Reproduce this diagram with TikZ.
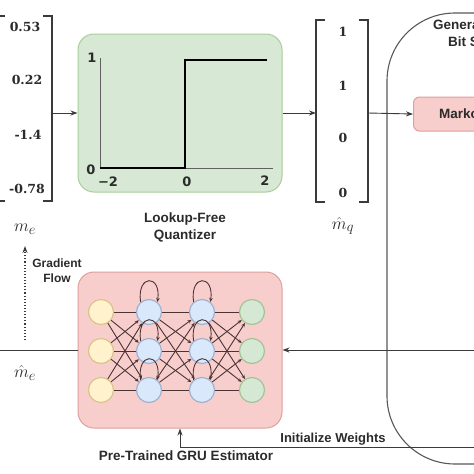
\documentclass[tikz,border=0pt]{standalone}
\usepackage{fontspec}
\usetikzlibrary{arrows.meta}
\newfontfamily\lsans{Liberation Sans}
\newfontfamily\dsans{DejaVu Sans}
\newfontfamily\numfont{DejaVu Serif}
\definecolor{txt}{HTML}{2B2B2B}
\definecolor{lnc}{HTML}{3A3A3A}
\definecolor{qfill}{HTML}{D7E9D5}
\definecolor{qdraw}{HTML}{A9CC9A}
\definecolor{pfill}{HTML}{F8CECC}
\definecolor{pdraw}{HTML}{DDA09E}
\definecolor{yfill}{HTML}{FFF2CC}
\definecolor{ydraw}{HTML}{D9C48A}
\definecolor{bfill}{HTML}{DAE8FC}
\definecolor{bdraw}{HTML}{9FB3D1}
\definecolor{gfill}{HTML}{D5E8D4}
\definecolor{gdraw}{HTML}{A3C496}
\definecolor{edge}{HTML}{4A3434}
\tikzset{
  matnum/.style={font=\numfont\bfseries\fontsize{12.5}{15}\selectfont, text=txt, inner sep=0},
  caption/.style={font=\lsans\bfseries\fontsize{13.5}{17}\selectfont, text=txt, align=center, inner sep=0},
  axlab/.style={font=\dsans\bfseries\fontsize{13}{15}\selectfont, text=txt, inner sep=0},
  mlab/.style={font=\fontsize{19}{21}\selectfont, text=txt, inner sep=0},
  brk/.style={draw=lnc, line width=1.5},
  conn/.style={draw=lnc, line width=0.9, -{Stealth[length=7, width=5]}},
  quantbox/.style={draw=qdraw, fill=qfill, rounded corners=16, line width=1},
  pinkbox/.style={draw=pdraw, fill=pfill, rounded corners=16, line width=1},
  markbox/.style={draw=pdraw, fill=pfill, rounded corners=6, line width=1},
  neur/.style={circle, minimum size=25, inner sep=0, line width=1.2},
  yn/.style={neur, draw=ydraw, fill=yfill},
  bn/.style={neur, draw=bdraw, fill=bfill},
  gn/.style={neur, draw=gdraw, fill=gfill},
  nedge/.style={draw=edge, line width=0.9},
  nedgea/.style={nedge, -{Stealth[length=4, width=3.5]}},
}
\begin{document}
\begin{tikzpicture}[x=1pt, y=-1pt]
\useasboundingbox (0,0) rectangle (474,474);
\clip (0,0) rectangle (474,474);
\fill[white] (0,0) rectangle (474,474);

% left matrix m_e
\draw[brk] (5,16) -- (-4,16) -- (-4,201) -- (5,201);
\draw[brk] (43,16) -- (52,16) -- (52,201) -- (43,201);
\node[matnum] (e1) at (25,27) {0.53};
\node[matnum] (e2) at (27,80) {0.22};
\node[matnum] (e3) at (28,135) {-1.4};
\node[matnum] (e4) at (27,189) {-0.78};
\coordinate (meR) at (52,113);
\node[mlab] (melab) at (25,229) {$m_e$};

% quantizer
\node[quantbox, minimum width=204, minimum height=158] (quant) at (180,113) {};
\draw[draw=lnc!80, line width=1] (100,58) -- (100,168) -- (273,168);
\draw[draw=black, line width=2.4] (100,168) -- (185,168) -- (185,60) -- (267,60);
\node[axlab] (ay1) at (92,58) {1};
\node[axlab] (ay0) at (91,170) {0};
\node[axlab] (axm2) at (108,182) {\char"2212 2};
\node[axlab] (ax0) at (187,182) {0};
\node[axlab] (ax2) at (265,181) {2};
\node[caption] (qlab) at (185,227) {Lookup-Free\\Quantizer};
\draw[conn] (meR) -- (quant.west);

% m_q matrix
\draw[brk] (325,20) -- (316,20) -- (316,202) -- (325,202);
\draw[brk] (359,20) -- (368,20) -- (368,202) -- (359,202);
\node[matnum] (q1) at (343,32) {1};
\node[matnum] (q2) at (343,86) {1};
\node[matnum] (q3) at (343,138) {0};
\node[matnum] (q4) at (343,193) {0};
\coordinate (mqL) at (316,113);
\coordinate (mqR) at (368,113);
\node[mlab] (mqlab) at (343,226) {$\hat{m}_q$};
\draw[conn] (quant.east) -- (mqL);

% generator region
\draw[draw=lnc!85, line width=1.1, rounded corners=68] (387,13) rectangle (620,464);
\node[caption, anchor=west] (gen1) at (433,25) {Generated};
\node[caption, anchor=west] (gen2) at (448,43) {Bit Sequence};
\node[markbox, minimum width=140, minimum height=34, anchor=west] (markov) at (413,114) {};
\node[caption, anchor=west] (marklab) at (439,114) {Markov Chain};
\draw[conn] (mqR) -- (markov.west);

% GRU estimator
\node[pinkbox, minimum width=204, minimum height=156] (gru) at (180,350) {};
\foreach \c/\x/\s in {1/101/yn, 2/149/bn, 3/202/bn, 4/252/gn}{
  \foreach \r/\y in {1/312, 2/351, 3/390}{
    \node[\s] (n\c\r) at (\x,\y) {};
  }
}
\foreach \a/\b in {1/2, 2/3, 3/4}{
  \foreach \r in {1,2,3}{
    \draw[nedge] (n\a\r) -- (n\b\r);
    \foreach \t in {1,2,3}{
      \ifnum\r=\t\else
        \draw[nedgea] (n\a\r) -- (n\b\t);
      \fi
    }
  }
}
\foreach \c in {2,3}{
  \foreach \r in {1,2,3}{
    \draw[nedgea] (n\c\r.130) .. controls +(-4,-28) and +(4,-28) .. (n\c\r.50);
  }
}
\node[caption] (grulab) at (186,456) {Pre-Trained GRU Estimator};

% connectors around GRU
\coordinate (rin) at (480,350);
\draw[conn] (rin) -- (gru.east);
\coordinate (lout) at (-10,350);
\draw[conn] (gru.west) -- (lout);
\node[mlab] (melab2) at (25,373) {$\hat{m}_e$};
\coordinate (iw) at (480,447);
\draw[conn] (iw) -| (gru.south);
\node[caption, font=\lsans\bfseries\fontsize{13}{15}\selectfont] (iwlab) at (333,439) {Initialize Weights};

% gradient flow
\coordinate (gf1) at (25,340);
\coordinate (gf2) at (25,246);
\draw[draw=lnc, line width=1.1, dotted, -{Stealth[length=7, width=5]}] (gf1) -- (gf2);
\node[caption, font=\lsans\bfseries\fontsize{12}{15}\selectfont] (gflab) at (57,271) {Gradient\\Flow};
\end{tikzpicture}
\end{document}
